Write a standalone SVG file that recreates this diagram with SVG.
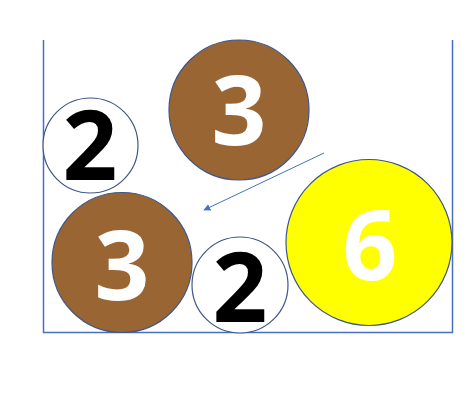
<svg xmlns="http://www.w3.org/2000/svg" width="474" height="413" viewBox="0 0 474 413">
<style>
.c{stroke:#3f5687;stroke-width:1.2}
.t{font-family:"Open Sans","Noto Sans",sans-serif;font-weight:bold;font-size:96px;text-anchor:middle}
.w{fill:#ffffff}.k{fill:#000000}
</style>
<defs>
<marker id="ah" viewBox="0 0 10 10" refX="9" refY="5" markerWidth="7" markerHeight="7" orient="auto" markerUnits="userSpaceOnUse">
<path d="M0,0 L10,5 L0,10 z" fill="#4472c4"/>
</marker>
</defs>
<rect width="474" height="413" fill="#ffffff"/>
<g id="container">
<path d="M43.5,40 V332.5 H452.5 V40" fill="none" stroke="#4a6fbf" stroke-width="1.5"/>
</g>
<g id="n2a"><circle class="c" cx="90.5" cy="145.5" r="47.5" fill="#ffffff"/><text class="t k" x="90" y="180">2</text></g>
<g id="n3a"><circle class="c" cx="239" cy="110" r="70" fill="#996633"/><text class="t w" x="239" y="145">3</text></g>
<g id="n3b"><circle class="c" cx="122" cy="262.5" r="70" fill="#996633"/><text class="t w" x="122" y="300">3</text></g>
<g id="n2b"><circle class="c" cx="240" cy="285" r="48" fill="#ffffff"/><text class="t k" x="240" y="322">2</text></g>
<g id="n6"><circle class="c" cx="369" cy="242.5" r="83" fill="#ffff00"/><text class="t w" x="370" y="280">6</text></g>
<g id="connectors">
<line x1="324" y1="153" x2="204" y2="210" stroke="#4472c4" stroke-width="1" marker-end="url(#ah)"/>
</g>
</svg>
